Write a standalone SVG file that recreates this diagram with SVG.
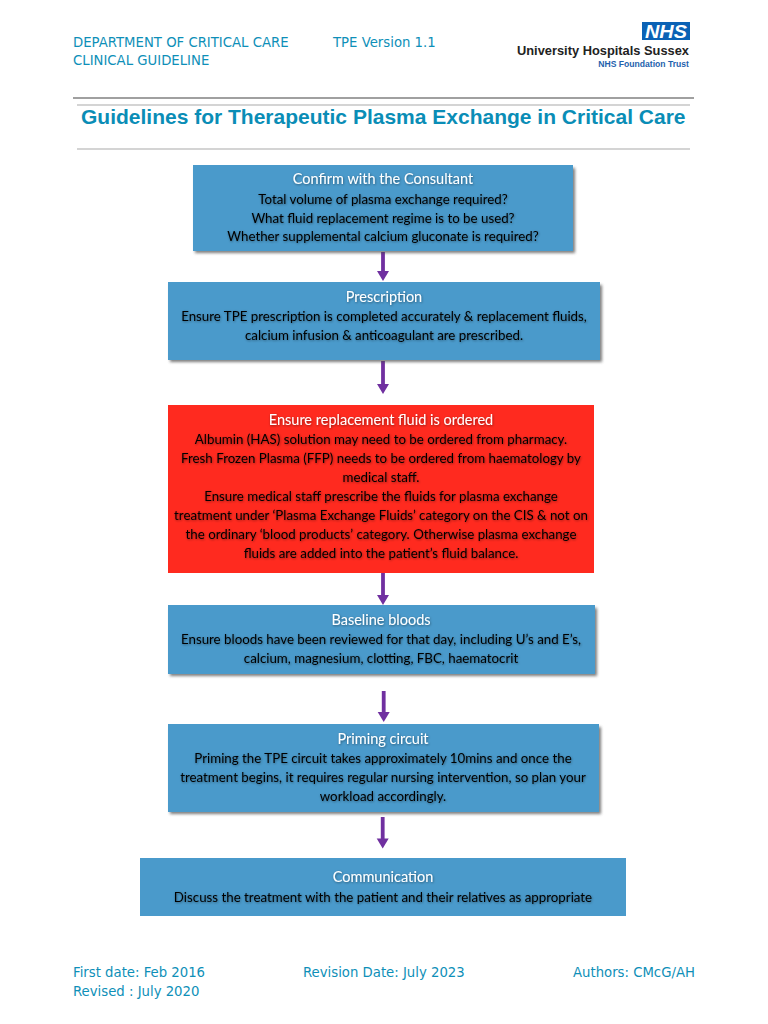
<svg xmlns="http://www.w3.org/2000/svg" width="768" height="1024" viewBox="0 0 768 1024">
<style>
.h{font-family:"DejaVu Sans",Verdana,sans-serif;font-size:13.25px;fill:#0e8fb8}
.t{font-family:"Liberation Sans",Arial,sans-serif;font-size:21px;font-weight:bold;fill:#0a8db6}
.w{font-family:Lato,"Open Sans",sans-serif;font-size:14.5px;fill:#fff;text-anchor:middle;filter:url(#ts)}
.b{font-family:Lato,"Open Sans",sans-serif;font-size:13.3px;fill:#000;text-anchor:middle;filter:url(#ts)}
.box{fill:#4a9acb}
.red{fill:#ff2a1f}
.sh{fill:#444;opacity:.7;filter:url(#blur)}
.rule{stroke:#aaa;stroke-width:1.2}
.conn{stroke:#7030a0;stroke-width:3.8;fill:none}
.head{fill:#7030a0}
</style>
<defs>
<filter id="blur" x="-5%" y="-10%" width="110%" height="120%"><feGaussianBlur stdDeviation="1.5"/></filter>
<filter id="ts" x="-5%" y="-30%" width="110%" height="160%"><feDropShadow dx="0.6" dy="0.8" stdDeviation="0.9" flood-color="#000" flood-opacity="0.45"/></filter>
<path id="ah" class="head" d="M-6 -10H6L0 0Z"/>
</defs>
<rect width="768" height="1024" fill="#fff"/>
<g id="header">
<text class="h" x="73" y="47">DEPARTMENT OF CRITICAL CARE</text>
<text class="h" x="73" y="65">CLINICAL GUIDELINE</text>
<text class="h" x="333" y="47">TPE Version 1.1</text>
</g>
<g id="logo">
<rect x="642" y="22" width="48" height="18" fill="#0b62b5"/>
<text x="666" y="38" font-family="Liberation Sans,Arial,sans-serif" font-size="19" font-weight="bold" font-style="italic" fill="#fff" text-anchor="middle" textLength="42" lengthAdjust="spacingAndGlyphs">NHS</text>
<text x="517" y="55" font-family="Liberation Sans,Arial,sans-serif" font-size="12.6" font-weight="bold" fill="#222" textLength="172" lengthAdjust="spacingAndGlyphs">University Hospitals Sussex</text>
<text x="689" y="67" font-family="Liberation Sans,Arial,sans-serif" font-size="8.6" font-weight="bold" fill="#1f62ad" text-anchor="end">NHS Foundation Trust</text>
</g>
<g id="title">
<line x1="73" y1="98" x2="694" y2="98" stroke="#808080" stroke-width="1.6"/>
<line class="rule" x1="77" y1="105" x2="690" y2="105"/>
<text class="t" x="81" y="124">Guidelines for Therapeutic Plasma Exchange in Critical Care</text>
<line class="rule" x1="77" y1="149" x2="690" y2="149"/>
</g>
<g id="connectors">
<line class="conn" x1="383" y1="252" x2="383" y2="272"/><use href="#ah" x="383" y="281"/>
<line class="conn" x1="383" y1="361" x2="383" y2="385"/><use href="#ah" x="383" y="394"/>
<line class="conn" x1="383" y1="573" x2="383" y2="596"/><use href="#ah" x="383" y="605"/>
<line class="conn" x1="383.700" y1="691" x2="383.700" y2="713"/><use href="#ah" x="383.700" y="722"/>
<line class="conn" x1="382.700" y1="817" x2="382.700" y2="839"/><use href="#ah" x="382.700" y="848.500"/>
</g>
<g id="node-consultant">
<rect class="sh" x="195" y="168" width="380" height="85"/>
<rect class="box" x="193" y="165" width="380" height="86"/>
<text class="w" x="383" y="184">Confirm with the Consultant</text>
<text class="b" x="383" y="204">Total volume of plasma exchange required?</text>
<text class="b" x="383" y="223">What fluid replacement regime is to be used?</text>
<text class="b" x="383" y="241">Whether supplemental calcium gluconate is required?</text>
</g>
<g id="node-prescription">
<rect class="sh" x="170" y="285" width="432" height="77"/>
<rect class="box" x="168" y="282" width="432" height="78"/>
<text class="w" x="384" y="302">Prescription</text>
<text class="b" x="384" y="321">Ensure TPE prescription is completed accurately &amp; replacement fluids,</text>
<text class="b" x="384" y="340">calcium infusion &amp; anticoagulant are prescribed.</text>
</g>
<g id="node-fluid">
<rect class="red" x="168" y="405" width="426" height="168"/>
<text class="w" x="381" y="425">Ensure replacement fluid is ordered</text>
<text class="b" x="381" y="444">Albumin (HAS) solution may need to be ordered from pharmacy.</text>
<text class="b" x="381" y="463">Fresh Frozen Plasma (FFP) needs to be ordered from haematology by</text>
<text class="b" x="381" y="482">medical staff.</text>
<text class="b" x="381" y="501">Ensure medical staff prescribe the fluids for plasma exchange</text>
<text class="b" x="381" y="520">treatment under ‘Plasma Exchange Fluids’ category on the CIS &amp; not on</text>
<text class="b" x="381" y="539">the ordinary ‘blood products’ category. Otherwise plasma exchange</text>
<text class="b" x="381" y="558">fluids are added into the patient’s fluid balance.</text>
</g>
<g id="node-baseline">
<rect class="sh" x="170" y="608" width="427" height="68"/>
<rect class="box" x="168" y="605" width="427" height="69"/>
<text class="w" x="381" y="625">Baseline bloods</text>
<text class="b" x="381" y="644">Ensure bloods have been reviewed for that day, including U’s and E’s,</text>
<text class="b" x="381" y="663">calcium, magnesium, clotting, FBC, haematocrit</text>
</g>
<g id="node-priming">
<rect class="sh" x="170" y="727" width="431" height="87"/>
<rect class="box" x="168" y="724" width="431" height="88"/>
<text class="w" x="383" y="744">Priming circuit</text>
<text class="b" x="383" y="763">Priming the TPE circuit takes approximately 10mins and once the</text>
<text class="b" x="383" y="782">treatment begins, it requires regular nursing intervention, so plan your</text>
<text class="b" x="383" y="801">workload accordingly.</text>
</g>
<g id="node-communication">
<rect class="box" x="140" y="858" width="486" height="58"/>
<text class="w" x="383" y="882">Communication</text>
<text class="b" x="383" y="902">Discuss the treatment with the patient and their relatives as appropriate</text>
</g>
<g id="footer">
<text class="h" x="73" y="977">First date: Feb 2016</text>
<text class="h" x="73" y="996">Revised : July 2020</text>
<text class="h" x="303" y="977">Revision Date: July 2023</text>
<text class="h" x="573" y="977">Authors: CMcG/AH</text>
</g>
</svg>
